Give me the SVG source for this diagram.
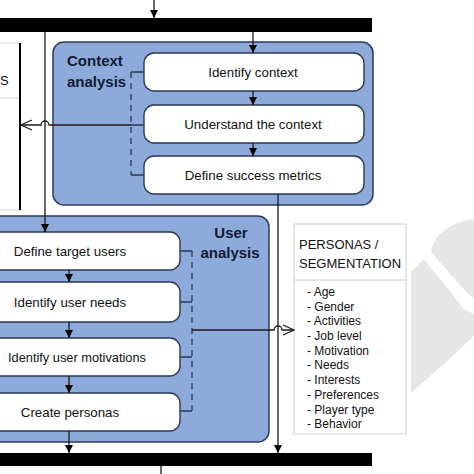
<svg xmlns="http://www.w3.org/2000/svg" width="474" height="474" viewBox="0 0 474 474">
<defs>
<marker id="fa" markerUnits="userSpaceOnUse" markerWidth="10" markerHeight="10" refX="8" refY="4" orient="auto">
<path d="M0,0 L8,4 L0,8 Z" fill="#000"/>
</marker>
<marker id="oa" markerUnits="userSpaceOnUse" markerWidth="14" markerHeight="14" refX="12" refY="6" orient="auto">
<path d="M1,1 L12,6 L1,11" fill="none" stroke="#1a1a1a" stroke-width="1.3"/>
</marker>
<style>
.panel{fill:#8eaadb;stroke:#2d3b59;stroke-width:1.5}
.box{fill:#fff;stroke:#2a3954;stroke-width:1.4}
.t{font-family:"Liberation Sans",Arial,sans-serif;font-size:13.3px;fill:#111;text-anchor:middle}
.h{font-family:"Liberation Sans",Arial,sans-serif;font-size:15px;font-weight:bold;fill:#0f1b33}
.p{font-family:"Liberation Sans",Arial,sans-serif;font-size:13px;fill:#111}
.l{font-family:"Liberation Sans",Arial,sans-serif;font-size:12px;fill:#111}
.ln{fill:none;stroke:#1a1a1a;stroke-width:1.3}
.ds{fill:none;stroke:#2a3954;stroke-width:1.3;stroke-dasharray:6,5}
.tk{fill:none;stroke:#2a3954;stroke-width:1.3}
</style>
</defs>
<rect width="474" height="474" fill="#fff"/>
<g id="watermark" fill="#e6e6e6">
<path d="M411,272 L424,259 L464,309 L474,314 L474,336 L446,362 L411,393 Z"/>
<path d="M431,252 C434,233 452,222 474,219 L474,298 L468,294 Z"/>
</g>
<g id="bars">
<rect x="0" y="18" width="372" height="14" fill="#000"/>
<rect x="0" y="453" width="372" height="13" fill="#000"/>
</g>
<g id="left-box">
<rect x="-5" y="43" width="25" height="167" fill="#fff" stroke="#d4d4d4" stroke-width="1"/>
<line x1="20" y1="43" x2="20" y2="210" stroke="#000" stroke-width="2"/>
<line x1="-5" y1="98" x2="19" y2="98" stroke="#d4d4d4" stroke-width="1"/>
<text class="p" x="0" y="85">S</text>
</g>
<g id="context-analysis">
<rect class="panel" x="53" y="42" width="320" height="163" rx="11"/>
<text class="h" x="67" y="66">Context</text>
<text class="h" x="67" y="87">analysis</text>
</g>
<g id="identify-context">
<rect class="box" x="144" y="53" width="220" height="38" rx="10"/>
<text class="t" x="253" y="77">Identify context</text>
</g>
<g id="understand-context">
<rect class="box" x="144" y="105" width="220" height="38" rx="10"/>
<text class="t" x="253" y="129">Understand the context</text>
</g>
<g id="define-success-metrics">
<rect class="box" x="144" y="156" width="220" height="38" rx="10"/>
<text class="t" x="253" y="180">Define success metrics</text>
</g>
<g id="user-analysis">
<rect class="panel" x="-12" y="216" width="281" height="226" rx="11"/>
<text class="h" x="231" y="238" text-anchor="middle">User</text>
<text class="h" x="230" y="258" text-anchor="middle">analysis</text>
</g>
<g id="define-target-users">
<rect class="box" x="-12" y="232" width="192" height="38" rx="10"/>
<text class="t" x="70" y="256">Define target users</text>
</g>
<g id="identify-user-needs">
<rect class="box" x="-12" y="282" width="192" height="40" rx="10"/>
<text class="t" x="70" y="307">Identify user needs</text>
</g>
<g id="identify-user-motivations">
<rect class="box" x="-12" y="338" width="192" height="38" rx="10"/>
<text class="t" x="77" y="362" style="font-size:12.8px">Identify user motivations</text>
</g>
<g id="create-personas">
<rect class="box" x="-12" y="393" width="192" height="38" rx="10"/>
<text class="t" x="70" y="417">Create personas</text>
</g>
<g id="personas-segmentation">
<rect x="294" y="224" width="112" height="210" fill="#fff" stroke="#d0d0d0" stroke-width="1"/>
<line x1="294" y1="280" x2="406" y2="280" stroke="#d0d0d0" stroke-width="1"/>
<text class="p" x="299" y="249">PERSONAS /</text>
<text class="p" x="299" y="268">SEGMENTATION</text>
<text class="l" x="307" y="296">- Age</text>
<text class="l" x="307" y="311">- Gender</text>
<text class="l" x="307" y="325">- Activities</text>
<text class="l" x="307" y="340">- Job level</text>
<text class="l" x="307" y="355">- Motivation</text>
<text class="l" x="307" y="369">- Needs</text>
<text class="l" x="307" y="384">- Interests</text>
<text class="l" x="307" y="399">- Preferences</text>
<text class="l" x="307" y="414">- Player type</text>
<text class="l" x="307" y="428">- Behavior</text>
</g>
<g id="connectors">
<line class="ln" x1="154" y1="0" x2="154" y2="18" marker-end="url(#fa)"/>
<line class="ln" x1="253" y1="32" x2="253" y2="53" marker-end="url(#fa)"/>
<line class="ln" x1="253" y1="91" x2="253" y2="105" marker-end="url(#fa)"/>
<line class="ln" x1="253" y1="143" x2="253" y2="156" marker-end="url(#fa)"/>
<line class="ln" x1="45" y1="32" x2="45" y2="232" marker-end="url(#fa)"/>
<line class="ds" x1="131" y1="72" x2="131" y2="175"/>
<path class="tk" d="M131,72 H144 M131,125 H144 M131,175 H144"/>
<path class="ln" d="M131,125 H49 a4,4 0 0 0 -8,0 H21" marker-end="url(#oa)"/>
<line class="ln" x1="69" y1="270" x2="69" y2="282" marker-end="url(#fa)"/>
<line class="ln" x1="69" y1="322" x2="69" y2="338" marker-end="url(#fa)"/>
<line class="ln" x1="69" y1="376" x2="69" y2="393" marker-end="url(#fa)"/>
<line class="ln" x1="69" y1="431" x2="69" y2="453" marker-end="url(#fa)"/>
<line class="ds" x1="192" y1="251" x2="192" y2="411"/>
<path class="tk" d="M180,251 H192 M180,302 H192 M180,357 H192 M180,411 H192"/>
<line class="ln" x1="278" y1="194" x2="278" y2="453" marker-end="url(#fa)"/>
<path class="ln" d="M192,330 H274 a4,4 0 0 1 8,0 H294" marker-end="url(#oa)"/>
<line class="ln" x1="161" y1="466" x2="161" y2="474"/>
</g>
</svg>
